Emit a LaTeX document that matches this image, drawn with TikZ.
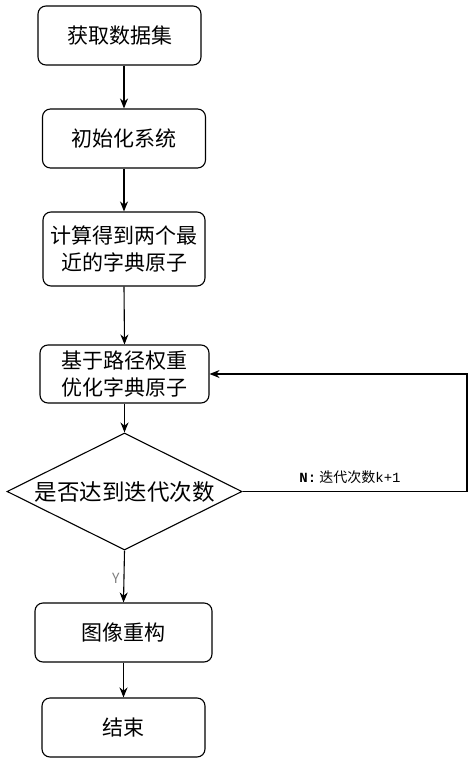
\documentclass[tikz,border=0pt]{standalone}
\usepackage{fontspec}
\setmainfont{Noto Sans CJK SC}
\newfontfamily\monof{Liberation Mono}
\usetikzlibrary{arrows.meta,shapes.geometric}
\begin{document}
\begin{tikzpicture}[x=1pt,y=-1pt,
  box/.style={draw, line width=1.1pt, rounded corners=8pt, inner sep=0pt, align=center,
              font=\fontsize{21}{27}\selectfont},
  dec/.style={draw, line width=1.1pt, diamond, aspect=2, inner sep=0pt,
              minimum width=235pt, minimum height=117pt, font=\fontsize{22.5}{27}\selectfont},
  arr/.style={draw, line width=1.1pt, -{Stealth[length=10pt,width=8pt]}},
  lbl/.style={font=\fontsize{14}{16}\selectfont}]
\useasboundingbox (0,0) rectangle (474,765);
\node[box, minimum width=163pt, minimum height=59pt] (n1) at (119.5,35.5) {获取数据集};
\node[box, minimum width=163pt, minimum height=59pt] (n2) at (124,138.5) {初始化系统};
\node[box, minimum width=162pt, minimum height=74pt] (n3) at (124,249) {计算得到两个最\\近的字典原子};
\node[box, minimum width=169pt, minimum height=58pt] (n4) at (124.5,374) {基于路径权重\\优化字典原子};
\node[dec] (d) at (124.5,491.5) {是否达到迭代次数};
\node[box, minimum width=177pt, minimum height=59pt] (n5) at (123.5,632.5) {图像重构};
\node[box, minimum width=163pt, minimum height=59pt] (n6) at (123.5,727.5) {结束};
\coordinate (c) at (467,491.5);
\draw[arr] (n1.south -| n2.north) -- (n2.north);
\draw[arr] (n2.south) -- (n3.north);
\draw[arr] (n3.south) -- (n4.north);
\draw[arr] (n4.south) -- (d.north);
\draw[arr] (d.south) -- (n5.north);
\draw[arr] (d.east) -- (c) |- (n4.east);
\draw[arr] (n5.south) -- (n6.north);
\node[lbl, anchor=south] (nl) at (350,487) {{\monof\bfseries N:} 迭代次数{\monof k+1}};
\node[lbl, text=gray, anchor=east] (yl) at (123,578) {Y};
\end{tikzpicture}
\end{document}
